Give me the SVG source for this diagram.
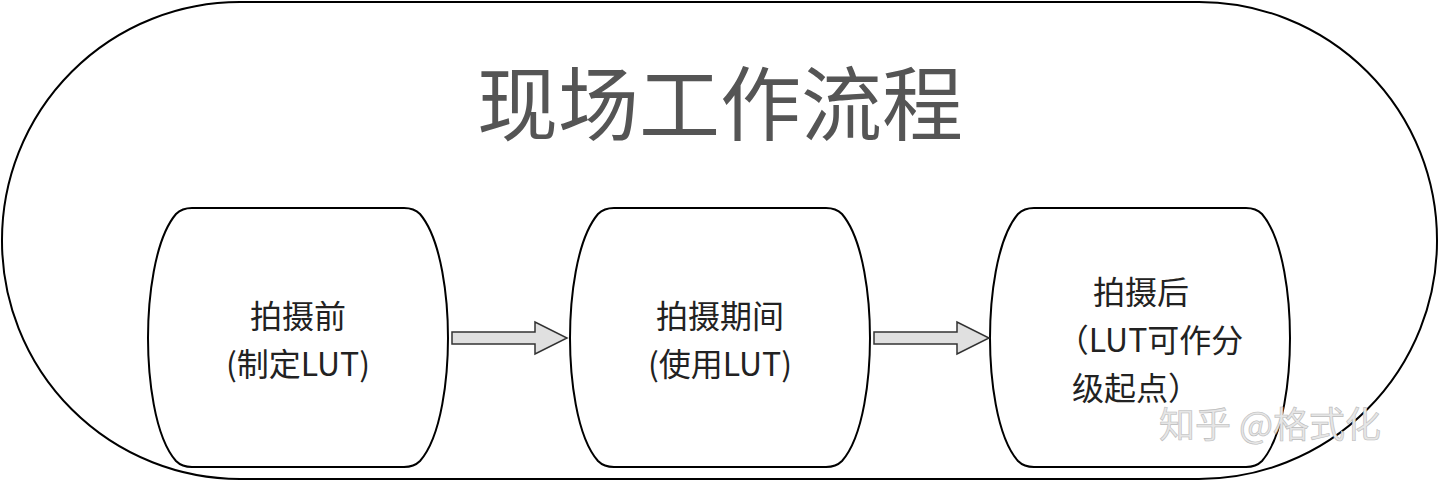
<svg xmlns="http://www.w3.org/2000/svg" width="1440" height="483" viewBox="0 0 1440 483">
<style>
.n{fill:#fff;stroke:#000;stroke-width:2}
.t{font-family:"Noto Sans CJK SC","Noto Sans",sans-serif;font-size:32px;fill:#222;text-anchor:middle}
.a{fill:#e0e0e0;stroke:#333;stroke-width:1.5}
</style>
<rect width="1440" height="483" fill="#fff"/>
<rect id="outer" x="2" y="2" width="1435" height="477" rx="238" ry="238" fill="#fff" stroke="#000" stroke-width="2"/>
<text x="720" y="134" font-family="'Noto Sans CJK SC',sans-serif" font-size="81" fill="#555" text-anchor="middle">现场工作流程</text>
<g id="n1">
<path class="n" d="M192,208 L404,208 Q414,208 420,214 C442,240 448,300 448,338 C448,376 442,436 420,461 Q414,467 404,467 L192,467 Q182,467 176,461 C154,436 148,376 148,338 C148,300 154,240 176,214 Q182,208 192,208 Z"/>
<text class="t" x="298" y="328">拍摄前</text>
<text class="t" x="298" y="376">(制定LUT)</text>
</g>
<g id="n2">
<path class="n" d="M614,208 L826,208 Q836,208 842,214 C864,240 870,300 870,338 C870,376 864,436 842,461 Q836,467 826,467 L614,467 Q604,467 598,461 C576,436 570,376 570,338 C570,300 576,240 598,214 Q604,208 614,208 Z"/>
<text class="t" x="720" y="328">拍摄期间</text>
<text class="t" x="720" y="376">(使用LUT)</text>
</g>
<g id="n3">
<path class="n" d="M1034,208 L1246,208 Q1256,208 1262,214 C1284,240 1290,300 1290,338 C1290,376 1284,436 1262,461 Q1256,467 1246,467 L1034,467 Q1024,467 1018,461 C996,436 990,376 990,338 C990,300 996,240 1018,214 Q1024,208 1034,208 Z"/>
<text class="t" x="1141" y="304">拍摄后</text>
<text class="t" x="1150" y="352">（LUT可作分</text>
<text class="t" x="1136" y="400">级起点）</text>
</g>
<g id="connectors">
<path class="a" d="M452,332 H535 V322 L567,338 L535,354 V344 H452 Z"/>
<path class="a" d="M874,332 H957 V322 L989,338 L957,354 V344 H874 Z"/>
</g>
<text x="1270" y="438" font-family="'Noto Sans CJK SC',sans-serif" font-size="36" fill="#e6e6e6" stroke="#bbb" stroke-width="0.6" text-anchor="middle">知乎 @格式化</text>
</svg>
